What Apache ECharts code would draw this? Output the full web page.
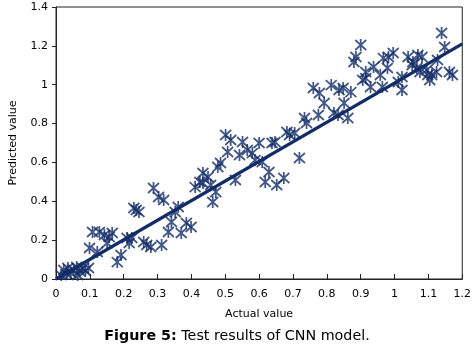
<!DOCTYPE html>
<html>
<head>
<meta charset="utf-8">
<script src="https://cdn.jsdelivr.net/npm/echarts@6/dist/echarts.min.js"></script>
<style>
html,body{margin:0;padding:0;background:#fff;}
#c{width:474px;height:347px;}
</style>
</head>
<body>
<div id="c"></div>
<script>
const actualValues = [
0.015,0.023,0.035,0.044,0.052,0.061,0.070,0.079,0.087,0.032,0.064,0.096,
0.099,0.122,0.108,0.128,0.143,0.157,0.166,0.151,0.181,0.192,0.210,0.216,
0.230,0.245,0.237,0.224,0.259,0.268,0.280,0.312,0.288,0.303,0.318,0.332,
0.341,0.352,0.361,0.370,0.385,0.399,0.411,0.425,0.434,0.449,0.434,0.472,
0.463,0.478,0.486,0.501,0.516,0.551,0.507,0.542,0.565,0.580,0.600,0.588,
0.609,0.638,0.647,0.682,0.457,0.530,0.629,0.618,0.652,0.673,0.760,0.778,
0.813,0.836,0.871,0.906,0.880,0.792,0.851,0.821,0.833,0.862,0.775,0.734,
0.740,0.690,0.705,0.719,0.900,0.886,0.915,0.938,0.958,0.929,0.915,0.967,
0.982,0.996,0.979,1.040,1.081,1.052,1.066,1.075,1.098,1.104,1.011,1.022,
0.964,0.848,1.139,1.148,1.069,1.054,1.127,1.095,1.110,1.124,1.162,1.171,
1.022
];
const predictedValues = [
0.020,0.046,0.057,0.031,0.046,0.062,0.041,0.057,0.041,0.026,0.021,0.057,
0.160,0.139,0.242,0.242,0.226,0.216,0.237,0.185,0.087,0.124,0.211,0.185,
0.365,0.345,0.355,0.211,0.190,0.175,0.165,0.175,0.468,0.422,0.407,0.242,
0.293,0.345,0.371,0.237,0.288,0.268,0.473,0.499,0.546,0.525,0.494,0.448,
0.396,0.576,0.597,0.741,0.715,0.705,0.654,0.638,0.664,0.648,0.700,0.612,
0.602,0.700,0.705,0.757,0.484,0.510,0.551,0.499,0.484,0.520,0.983,0.957,
0.998,0.973,0.962,1.024,1.117,0.906,0.906,0.854,0.844,0.829,0.844,0.829,
0.803,0.741,0.751,0.623,1.204,1.143,1.065,1.091,1.050,0.988,1.034,1.137,
1.143,1.163,1.086,1.143,1.143,1.101,1.086,1.065,1.050,1.024,1.014,0.973,
0.988,0.983,1.266,1.194,1.153,1.117,1.127,1.076,1.050,1.065,1.065,1.050,
1.040
];
const fitX = [0, 1.2];
const fitY = [0, 1.21];

const points = actualValues.map((x, i) => [x, predictedValues[i]]);
const fitLine = fitX.map((x, i) => [x, fitY[i]]);

const navy = '#112c66';
const axisFont = 'DejaVu Sans, Verdana, sans-serif';

const chart = echarts.init(document.getElementById('c'));
chart.setOption({
  animation: false,
  backgroundColor: '#fff',
  title: {
    text: '{b|Figure 5:} Test results of CNN model.',
    left: 'center',
    top: 324,
    textStyle: {
      fontFamily: axisFont,
      fontSize: 14.3,
      fontWeight: 'normal',
      color: '#000',
      rich: {
        b: { fontFamily: axisFont, fontSize: 14.3, fontWeight: 'bold', color: '#000' }
      }
    }
  },
  grid: {
    left: 51, right: 11, top: 7, bottom: 68,
    show: true, borderColor: '#222', borderWidth: 1, backgroundColor: '#fff'
  },
  xAxis: {
    type: 'value', min: 0, max: 1.2, interval: 0.1,
    name: 'Actual value', nameLocation: 'middle', nameGap: 30,
    nameTextStyle: { fontFamily: axisFont, fontSize: 11, color: '#000' },
    axisLine: { show: true, lineStyle: { color: '#222', width: 1 } },
    axisTick: { show: true, inside: true, length: 5, lineStyle: { color: '#222' } },
    axisLabel: { fontFamily: axisFont, fontSize: 11, color: '#000', margin: 10 },
    splitLine: { show: false }
  },
  yAxis: {
    type: 'value', min: 0, max: 1.4, interval: 0.2,
    name: 'Predicted value', nameLocation: 'middle', nameGap: 37,
    nameTextStyle: { fontFamily: axisFont, fontSize: 11, color: '#000' },
    axisLine: { show: true, lineStyle: { color: '#222', width: 1 } },
    axisTick: { show: true, inside: false, length: 4, lineStyle: { color: '#222' } },
    axisLabel: { fontFamily: axisFont, fontSize: 11, color: '#000', margin: 8 },
    splitLine: { show: false }
  },
  series: [
    {
      type: 'scatter',
      data: points,
      symbol: 'path://M0,0L10,10M10,0L0,10M5,-1L5,11',
      symbolSize: [11, 12],
      itemStyle: { color: 'rgba(0,0,0,0)', borderColor: navy, borderWidth: 1.8 },
      z: 2
    },
    {
      type: 'line',
      data: fitLine,
      symbol: 'none',
      lineStyle: { color: navy, width: 3.2 },
      z: 3
    }
  ]
});
</script>
</body>
</html>
